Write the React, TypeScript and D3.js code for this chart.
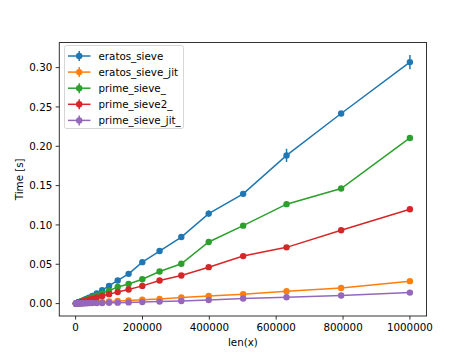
import React from "react";
import * as d3 from "d3";

const xs = [1000, 1259, 1585, 1995, 2512, 3162, 3981, 5012, 6310, 7943, 10000, 12589, 15849, 19953, 25119, 31623, 39811, 50119, 63096, 79433, 100000, 125893, 158489, 199526, 251189, 316228, 398107, 501187, 630957, 794328, 1000000];

const eratosSieve = [0.00016, 0.0002, 0.00025, 0.0003, 0.0004, 0.0005, 0.0006, 0.0008, 0.001, 0.0013, 0.0016, 0.0021, 0.0027, 0.0035, 0.0045, 0.0058, 0.0076, 0.0098, 0.0128, 0.017, 0.0225, 0.0294, 0.0378, 0.0527, 0.0668, 0.0846, 0.1144, 0.1395, 0.1884, 0.2417, 0.307];
const eratosSieveErr = [0, 0, 0, 0, 0, 0, 0, 0, 0, 0, 0, 0, 0, 0, 0, 0, 0, 0, 0.0005, 0.0005, 0.0008, 0.001, 0.001, 0.0012, 0.0015, 0.002, 0.004, 0.002, 0.0085, 0.002, 0.009];
const eratosSieveJit = [0.00003, 0.00004, 0.00005, 0.00006, 0.00007, 0.00009, 0.00011, 0.00014, 0.00017, 0.00021, 0.00026, 0.00033, 0.00041, 0.0005, 0.0006, 0.0008, 0.001, 0.0013, 0.0017, 0.0021, 0.0026, 0.0032, 0.004, 0.005, 0.0059, 0.0077, 0.0097, 0.0119, 0.0157, 0.0199, 0.0285];
const primeSieve = [0.00015, 0.00019, 0.00024, 0.0003, 0.00037, 0.00047, 0.0006, 0.00075, 0.00095, 0.0012, 0.0015, 0.0019, 0.0024, 0.0031, 0.0039, 0.005, 0.0063, 0.008, 0.01, 0.013, 0.0165, 0.021, 0.025, 0.031, 0.0408, 0.0506, 0.0783, 0.0991, 0.1264, 0.1463, 0.2106];
const primeSieve2 = [0.00015, 0.00018, 0.00022, 0.00027, 0.00034, 0.00042, 0.00052, 0.00065, 0.0008, 0.001, 0.0013, 0.0016, 0.002, 0.0025, 0.0031, 0.0039, 0.0049, 0.0061, 0.0077, 0.0097, 0.012, 0.0148, 0.0179, 0.0225, 0.0294, 0.0357, 0.0463, 0.0604, 0.0715, 0.0932, 0.12];
const primeSieveJit = [0.00002, 0.00002, 0.00003, 0.00003, 0.00004, 0.00005, 0.00006, 0.00008, 0.0001, 0.00012, 0.00015, 0.00019, 0.00024, 0.0003, 0.00037, 0.00045, 0.00055, 0.0007, 0.0006, 0.0008, 0.001, 0.0012, 0.0015, 0.0019, 0.0025, 0.0033, 0.0046, 0.0064, 0.008, 0.0102, 0.014];

const seriesNames = ["eratos_sieve", "eratos_sieve_jit", "prime_sieve_", "prime_sieve2_", "prime_sieve_jit_"];
const seriesColors = ["#1f77b4", "#ff7f0e", "#2ca02c", "#d62728", "#9467bd"];
const seriesValues = [eratosSieve, eratosSieveJit, primeSieve, primeSieve2, primeSieveJit];
const seriesErrors = [eratosSieveErr, null, null, null, null];

const yTicks = [0, 0.05, 0.1, 0.15, 0.2, 0.25, 0.3];
const xTicks = [0, 200000, 400000, 600000, 800000, 1000000];

export default function App() {
  const W = 474, H = 355;
  const left = 59.25, right = 426.6, top = 42.6, bottom = 316;

  const xMin = d3.min(xs)!, xMax = d3.max(xs)!;
  const xPad = (xMax - xMin) * 0.05;
  const x = d3.scaleLinear().domain([xMin - xPad, xMax + xPad]).range([left, right]);

  let lo = Infinity, hi = -Infinity;
  seriesValues.forEach((vals, i) => {
    vals.forEach((v, j) => {
      const e = seriesErrors[i] ? seriesErrors[i]![j] : 0;
      lo = Math.min(lo, v - e);
      hi = Math.max(hi, v + e);
    });
  });
  const yPad = (hi - lo) * 0.05;
  const y = d3.scaleLinear().domain([lo - yPad, hi + yPad]).range([bottom, top]);

  const line = d3.line<number>().x((_, j) => x(xs[j])).y((v) => y(v));
  const font = "DejaVu Sans, sans-serif";

  return (
    <svg width={W} height={H} style={{ position: "absolute", left: 0, top: 0, background: "#fff" }}>
      <rect x={0} y={0} width={W} height={H} fill="#fff" />
      <defs>
        <clipPath id="plot">
          <rect x={left} y={top} width={right - left} height={bottom - top} />
        </clipPath>
      </defs>
      <g clipPath="url(#plot)">
        {seriesValues.map((vals, i) => (
          <g key={seriesNames[i]}>
            <path d={line(vals)!} fill="none" stroke={seriesColors[i]} strokeWidth={1.5} />
            {vals.map((v, j) => (
              <circle key={j} cx={x(xs[j])} cy={y(v)} r={3.2} fill={seriesColors[i]} />
            ))}
            {seriesErrors[i] &&
              vals.map((v, j) => {
                const e = seriesErrors[i]![j];
                if (!e) return null;
                return (
                  <line key={"e" + j} x1={x(xs[j])} x2={x(xs[j])} y1={y(v - e)} y2={y(v + e)} stroke={seriesColors[i]} strokeWidth={1.5} />
                );
              })}
          </g>
        ))}
      </g>
      <rect x={left} y={top} width={right - left} height={bottom - top} fill="none" stroke="#000" strokeWidth={0.8} />
      {yTicks.map((t) => (
        <g key={t}>
          <line x1={left - 3.6} x2={left} y1={y(t)} y2={y(t)} stroke="#000" strokeWidth={0.8} />
          <text x={left - 7} y={y(t)} dy="0.35em" textAnchor="end" fontFamily={font} fontSize={10.3} fill="#000">
            {d3.format(".2f")(t)}
          </text>
        </g>
      ))}
      {xTicks.map((t) => (
        <g key={t}>
          <line x1={x(t)} x2={x(t)} y1={bottom} y2={bottom + 3.6} stroke="#000" strokeWidth={0.8} />
          <text x={x(t)} y={bottom + 7.2} dy="0.76em" textAnchor="middle" fontFamily={font} fontSize={10.3} fill="#000">
            {String(t)}
          </text>
        </g>
      ))}
      <text x={(left + right) / 2} y={346} textAnchor="middle" fontFamily={font} fontSize={10.3} fill="#000">
        len(x)
      </text>
      <text transform={`translate(23,${(top + bottom) / 2}) rotate(-90)`} textAnchor="middle" fontFamily={font} fontSize={10.3} fill="#000">
        Time [s]
      </text>
      <g>
        <rect x={64.5} y={45.5} width={119} height={83} rx={2} fill="#fff" fillOpacity={0.8} stroke="#ccc" strokeWidth={0.8} />
        {seriesNames.map((name, i) => {
          const cy = 56 + i * 16.1;
          return (
            <g key={name}>
              <line x1={68} x2={90.5} y1={cy} y2={cy} stroke={seriesColors[i]} strokeWidth={1.5} />
              <line x1={79.2} x2={79.2} y1={cy - 5} y2={cy + 5} stroke={seriesColors[i]} strokeWidth={1.5} />
              <circle cx={79.2} cy={cy} r={3.2} fill={seriesColors[i]} />
              <text x={98.5} y={cy} dy="0.35em" fontFamily={font} fontSize={10.3} fill="#000">
                {name}
              </text>
            </g>
          );
        })}
      </g>
    </svg>
  );
}
